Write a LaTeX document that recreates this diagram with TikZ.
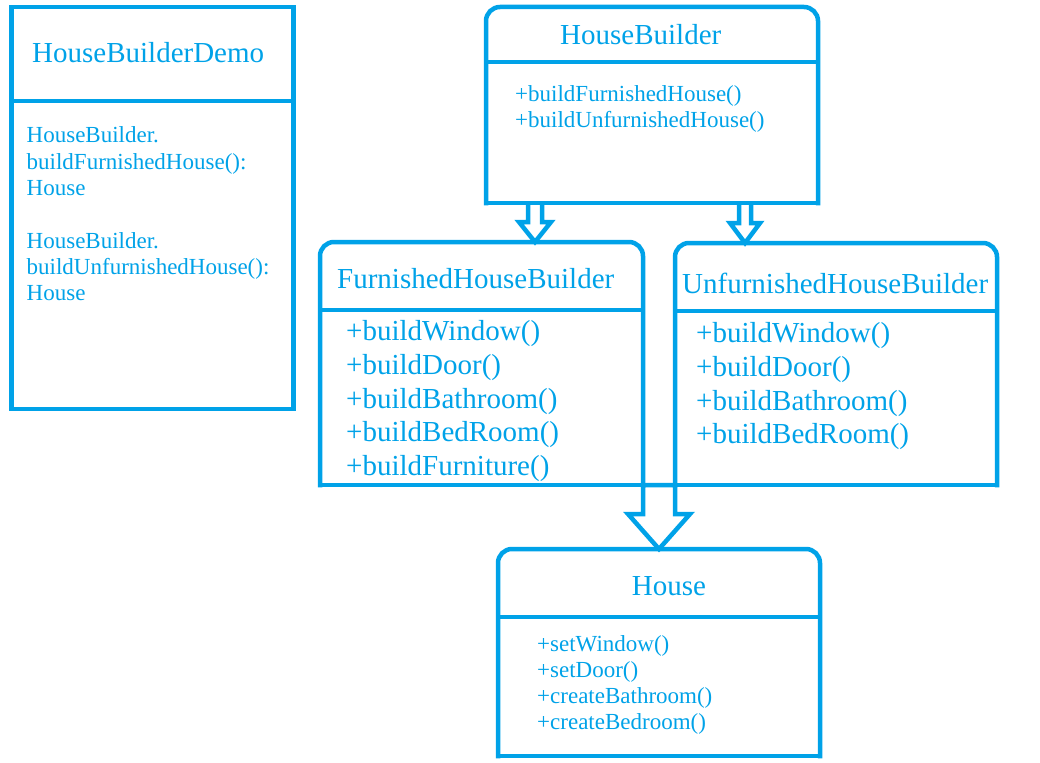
\documentclass[tikz,border=0pt]{standalone}
\usepackage{fontspec}
\setmainfont{Liberation Serif}
\usetikzlibrary{calc}
\definecolor{uml}{RGB}{0,162,232}
\begin{document}
\begin{tikzpicture}[x=1pt,y=-1pt,
  area/.style 2 args={minimum width=#1, minimum height=#2, inner sep=0pt, outer sep=0pt},
  edge/.style={draw=uml, line width=4.5pt, line cap=rect},
  toprounded/.style={edge, rounded corners=14pt},
  arrowline/.style={draw=uml, line width=4.5pt, line join=miter, line cap=butt},
  ttl/.style={text=uml, font=\fontsize{29}{34}\selectfont, inner sep=0pt, anchor=base west},
  mem/.style={text=uml, font=\fontsize{23}{26}\selectfont, inner sep=0pt, anchor=base west},
  bigmem/.style={text=uml, font=\fontsize{29}{34}\selectfont, inner sep=0pt, anchor=base west}]
\useasboundingbox (0,0) rectangle (1040,762);

% box areas
\node[area={282}{402}] (demo) at (152.5,208) {};
\node[area={332}{196}] (hb) at (652,105) {};
\node[area={323}{243}] (fhb) at (481.5,363.5) {};
\node[area={322}{242}] (uhb) at (836,364) {};
\node[area={322}{207}] (house) at (659,652.5) {};

% HouseBuilderDemo (square corners)
\draw[edge] (demo.south west) rectangle (demo.north east);
\draw[edge] ([yshift=-94pt]demo.north west) -- ([yshift=-94pt]demo.north east);

% rounded-top boxes
\foreach \b/\d in {hb/55, fhb/68, uhb/68, house/68}{
  \draw[toprounded] (\b.south west) -- (\b.north west) -- (\b.north east) -- (\b.south east);
  \draw[edge] (\b.south east) -- (\b.south west);
  \draw[edge] ([yshift=-\d pt]\b.north west) -- ([yshift=-\d pt]\b.north east);
}

% texts: HouseBuilderDemo
\node[ttl] (demo-t) at (32,62.5) {HouseBuilderDemo};
\node[mem] (demo-m1) at (26.5,143) {HouseBuilder.};
\node[mem] (demo-m2) at (26.5,169) {buildFurnishedHouse():};
\node[mem] (demo-m3) at (26.5,195) {House};
\node[mem] (demo-m4) at (26.5,248) {HouseBuilder.};
\node[mem] (demo-m5) at (26.5,274) {buildUnfurnishedHouse():};
\node[mem] (demo-m6) at (26.5,300) {House};

% HouseBuilder
\node[ttl] (hb-t) at (560,45) {HouseBuilder};
\node[mem] (hb-m1) at (515,101.5) {+buildFurnishedHouse()};
\node[mem] (hb-m2) at (515,127.5) {+buildUnfurnishedHouse()};

% FurnishedHouseBuilder
\node[ttl] (fhb-t) at (337,288) {FurnishedHouseBuilder};
\foreach \t [count=\i from 0] in {+buildWindow(),+buildDoor(),+buildBathroom(),+buildBedRoom(),+buildFurniture()}
  \node[bigmem] (fhb-m\i) at (346,340.5+33.8*\i) {\t};

% UnfurnishedHouseBuilder
\node[ttl] (uhb-t) at (682,293.5) {UnfurnishedHouseBuilder};
\foreach \t [count=\i from 0] in {+buildWindow(),+buildDoor(),+buildBathroom(),+buildBedRoom()}
  \node[bigmem] (uhb-m\i) at (696,342.5+33.8*\i) {\t};

% House
\node[ttl, anchor=base] (house-t) at (669,595) {House};
\foreach \t [count=\i from 0] in {+setWindow(),+setDoor(),+createBathroom(),+createBedroom()}
  \node[mem] (house-m\i) at (537,651+26*\i) {\t};

% generalization arrows
\coordinate (x1) at (535,0);
\coordinate (x2) at (745,0);
\coordinate (x3) at (659,0);
\draw[arrowline] ($(hb.south -| x1)+(-7,0)$) -- ($(fhb.north -| x1)+(-7,-20)$)
  -- ($(fhb.north -| x1)+(-16,-20)$) -- (fhb.north -| x1)
  -- ($(fhb.north -| x1)+(16,-20)$) -- ($(fhb.north -| x1)+(7,-20)$)
  -- ($(hb.south -| x1)+(7,0)$);
\draw[arrowline] ($(hb.south -| x2)+(-6,0)$) -- ($(uhb.north -| x2)+(-6,-20)$)
  -- ($(uhb.north -| x2)+(-15,-20)$) -- (uhb.north -| x2)
  -- ($(uhb.north -| x2)+(15,-20)$) -- ($(uhb.north -| x2)+(6,-20)$)
  -- ($(hb.south -| x2)+(6,0)$);
\draw[arrowline] (fhb.south east) -- ($(house.north -| x3)+(-16,-35)$)
  -- ($(house.north -| x3)+(-31,-35)$) -- (house.north -| x3)
  -- ($(house.north -| x3)+(31,-35)$) -- ($(house.north -| x3)+(16,-35)$)
  -- (uhb.south west) -- cycle;
\end{tikzpicture}
\end{document}
